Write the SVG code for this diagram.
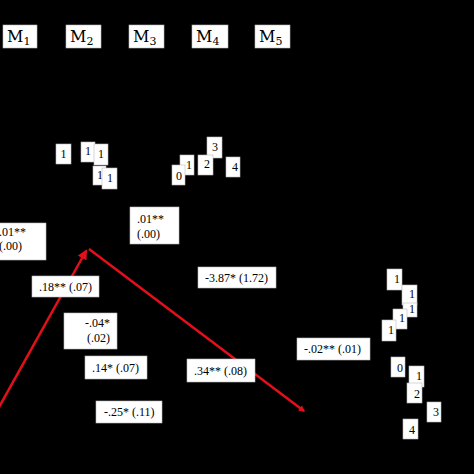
<svg xmlns="http://www.w3.org/2000/svg" width="474" height="474" viewBox="0 0 474 474">
<style>
.b{fill:#fff;stroke:#bbb;stroke-width:0.6}
.m{font-family:"DejaVu Serif","Liberation Serif",serif;font-size:16px;fill:#000}
.s{font-size:11px}
.t{font-family:"Liberation Serif",serif;font-size:12px;fill:#000}
.d{font-family:"Liberation Serif",serif;font-size:12px;fill:#000;text-anchor:middle}
.r{stroke:#e3101c;stroke-width:2.5;fill:none}
</style>
<defs>
<marker id="ah" viewBox="0 0 10 10" refX="8" refY="5" markerWidth="4" markerHeight="4" orient="auto" markerUnits="strokeWidth">
<path d="M0,0 L10,5 L0,10 z" fill="#e3101c"/>
</marker>
<marker id="ah2" viewBox="0 0 10 10" refX="8" refY="5" markerWidth="3" markerHeight="2.5" orient="auto" markerUnits="strokeWidth">
<path d="M0,0 L10,5 L0,10 z" fill="#e3101c"/>
</marker>
</defs>
<rect width="474" height="474" fill="#000"/>
<g id="M1"><rect class="b" x="3" y="25" width="34" height="23"/><text class="m" x="7" y="42">M<tspan class="s" dy="3">1</tspan></text></g>
<g id="M2"><rect class="b" x="66" y="25" width="35" height="23"/><text class="m" x="70" y="42">M<tspan class="s" dy="3">2</tspan></text></g>
<g id="M3"><rect class="b" x="129" y="25" width="35" height="23"/><text class="m" x="133" y="42">M<tspan class="s" dy="3">3</tspan></text></g>
<g id="M4"><rect class="b" x="192" y="25" width="36" height="23"/><text class="m" x="196" y="42">M<tspan class="s" dy="3">4</tspan></text></g>
<g id="M5"><rect class="b" x="255" y="25" width="35" height="23"/><text class="m" x="259" y="42">M<tspan class="s" dy="3">5</tspan></text></g>

<g id="small-top-left">
<g id="n1a"><rect class="b" x="56" y="144" width="15" height="20"/><text class="d" x="63.5" y="158">1</text></g>
<g id="n1b"><rect class="b" x="81" y="142" width="14" height="20"/><text class="d" x="88" y="155">1</text></g>
<g id="n1c"><rect class="b" x="94" y="144" width="14" height="21"/><text class="d" x="101" y="158">1</text></g>
<g id="n1d"><rect class="b" x="93" y="166" width="13" height="19"/><text class="d" x="100" y="179">1</text></g>
<g id="n1e"><rect class="b" x="102" y="168" width="15" height="21"/><text class="d" x="110" y="182">1</text></g>
</g>
<g id="small-top-right">
<g id="n3"><rect class="b" x="207" y="137" width="15" height="21"/><text class="d" x="215" y="151">3</text></g>
<g id="n1f"><rect class="b" x="180" y="155" width="14" height="20"/><text class="d" x="189" y="169">1</text></g>
<g id="n0a"><rect class="b" x="172" y="165" width="13" height="20"/><text class="d" x="179" y="180">0</text></g>
<g id="n2a"><rect class="b" x="198" y="155" width="15" height="20"/><text class="d" x="207" y="168">2</text></g>
<g id="n4a"><rect class="b" x="226" y="157" width="14" height="20"/><text class="d" x="235" y="171">4</text></g>
</g>
<g id="small-right">
<g id="r1a"><rect class="b" x="387" y="269" width="15" height="21"/><text class="d" x="397" y="283">1</text></g>
<g id="r1b"><rect class="b" x="402" y="285" width="15" height="20"/><text class="d" x="412" y="298">1</text></g>
<g id="r1c"><rect class="b" x="403" y="303" width="14" height="14"/><text class="d" x="412" y="313">1</text></g>
<g id="r1d"><rect class="b" x="393" y="309" width="14" height="20"/><text class="d" x="402" y="322">1</text></g>
<g id="r1e"><rect class="b" x="382" y="320" width="14" height="21"/><text class="d" x="391" y="334">1</text></g>
<g id="r0"><rect class="b" x="391" y="357" width="14" height="20"/><text class="d" x="400" y="372">0</text></g>
<g id="r1f"><rect class="b" x="409" y="366" width="15" height="21"/><text class="d" x="419" y="380">1</text></g>
<g id="r2"><rect class="b" x="407" y="383" width="15" height="20"/><text class="d" x="417" y="398">2</text></g>
<g id="r3"><rect class="b" x="427" y="402" width="14" height="20"/><text class="d" x="436" y="416">3</text></g>
<g id="r4"><rect class="b" x="403" y="419" width="15" height="20"/><text class="d" x="412" y="434">4</text></g>
</g>

<g id="connectors">
<line class="r" x1="-2" y1="409" x2="86" y2="251" marker-end="url(#ah)"/>
<line class="r" x1="89" y1="249" x2="304" y2="411" marker-end="url(#ah2)"/>
</g>

<g id="lbl-01a"><rect class="b" x="-2" y="223" width="48" height="37"/><text class="t" x="-1" y="236">.01**</text><text class="t" x="-1" y="250">(.00)</text></g>
<g id="lbl-01b"><rect class="b" x="130" y="207" width="49" height="37"/><text class="t" x="137" y="223">.01**</text><text class="t" x="137" y="238">(.00)</text></g>
<g id="lbl-18"><rect class="b" x="32" y="276" width="67" height="21"/><text class="t" x="39" y="291">.18** (.07)</text></g>
<g id="lbl-04"><rect class="b" x="64" y="313" width="53" height="36"/><text class="t" x="85" y="327">-.04*</text><text class="t" x="87" y="342">(.02)</text></g>
<g id="lbl-14"><rect class="b" x="85" y="356" width="62" height="23"/><text class="t" x="92" y="372">.14* (.07)</text></g>
<g id="lbl-34"><rect class="b" x="187" y="359" width="68" height="23"/><text class="t" x="194" y="375">.34** (.08)</text></g>
<g id="lbl-25"><rect class="b" x="96" y="401" width="66" height="22"/><text class="t" x="104" y="416">-.25* (.11)</text></g>
<g id="lbl-387"><rect class="b" x="198" y="267" width="78" height="21"/><text class="t" x="205" y="282">-3.87* (1.72)</text></g>
<g id="lbl-02"><rect class="b" x="297" y="338" width="73" height="22"/><text class="t" x="304" y="353">-.02** (.01)</text></g>
</svg>
